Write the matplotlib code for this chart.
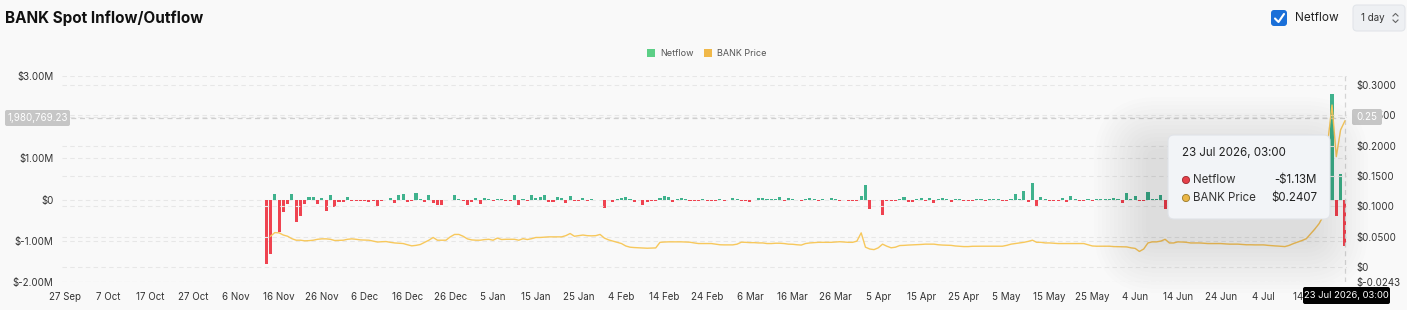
import numpy as np
import pandas as pd
import matplotlib
matplotlib.use("Agg")
import matplotlib.pyplot as plt
from matplotlib.patches import FancyBboxPatch, Circle
from matplotlib.ticker import FixedLocator, FuncFormatter

plt.rcParams["font.family"] = ["Inter", "DejaVu Sans"]

W, H = 1407, 310

# daily netflow in $M, 13 Nov 2025 .. 23 Jul 2026
netflow_m = [
    -1.56, -1.33, 0.13, -0.78, -0.31, -0.11, 0.13, -0.55, -0.39, -0.10,
    0.06, 0.06, -0.10, 0.04, -0.27, 0.12, -0.19, -0.05, -0.05, 0.07,
    -0.04, -0.04, -0.04, -0.04, -0.05, -0.04, -0.15, -0.04, -0.01, 0.04,
    -0.09, 0.12, 0.14, -0.05, -0.04, 0.16, 0.01, -0.05, 0.10, -0.09,
    -0.12, -0.12, -0.01, -0.01, 0.10, 0.01, -0.03, -0.12, -0.05, 0.04,
    -0.10, 0.04, 0.01, -0.04, 0.02, 0.02, -0.04, -0.04, 0.10, -0.12,
    0.01, -0.04, 0.12, 0.04, 0.07, 0.10, -0.05, -0.07, 0.06, 0.03,
    -0.09, 0.09, -0.04, -0.04, 0.04, -0.04, 0.01, -0.01, -0.01, -0.20,
    -0.01, -0.05, 0.01, 0.03, 0.06, 0.01, -0.07, -0.01, -0.12, -0.07,
    -0.04, -0.04, 0.04, 0.08, 0.07, -0.06, 0.01, 0.03, 0.01, -0.04,
    -0.04, -0.04, 0.01, -0.04, -0.04, -0.04, 0.01, -0.04, -0.01, 0.03,
    0.01, -0.04, -0.04, -0.07, -0.01, 0.03, 0.04, 0.01, 0.01, 0.01,
    0.07, -0.03, 0.03, 0.01, -0.01, -0.03, 0.01, 0.03, 0.01, -0.03,
    0.01, -0.01, 0.03, 0.01, -0.03, -0.01, -0.03, -0.04, -0.03, 0.09,
    0.36, -0.24, -0.01, -0.01, -0.38, -0.03, -0.03, -0.03, 0.01, 0.07,
    -0.05, -0.06, 0.01, 0.05, -0.03, 0.03, -0.08, 0.01, 0.04, 0.01,
    -0.06, 0.01, 0.01, -0.03, -0.03, -0.03, 0.01, 0.01, -0.03, 0.01,
    0.01, 0.01, -0.03, -0.03, 0.01, 0.13, 0.01, 0.22, -0.05, 0.41,
    -0.18, 0.06, 0.01, -0.03, -0.03, -0.03, 0.05, -0.05, 0.08, 0.01,
    -0.04, -0.03, 0.01, -0.03, 0.01, 0.01, 0.01, 0.01, 0.03, 0.02,
    -0.08, 0.15, 0.02, 0.08, -0.04, -0.03, 0.19, 0.01, 0.01, 0.10,
    -0.24, 0.03, -0.02, 0.02, -0.03, 0.01, 0.02, -0.02, 0.01, 0.03,
    -0.02, 0.01, -0.03, 0.02, 0.01, -0.02, 0.02, 0.01, -0.03, 0.02,
    0.01, -0.02, 0.01, 0.02, -0.02, 0.01, -0.03, 0.02, 0.03, -0.02,
    0.04, -0.03, 0.05, 0.06, -0.04, 0.08, 0.10, 0.15, 0.20, 2.56,
    -0.39, 0.61, -1.13,
]

# daily BANK price in $, 14 Nov 2025 .. 23 Jul 2026
price = [
    0.051, 0.057, 0.0566, 0.053, 0.051, 0.047, 0.0445, 0.0445, 0.0435, 0.0438,
    0.0445, 0.046, 0.0467, 0.0467, 0.046, 0.044, 0.0442, 0.0445, 0.046, 0.0467,
    0.046, 0.045, 0.0448, 0.0445, 0.043, 0.0415, 0.042, 0.0423, 0.041, 0.040,
    0.0395, 0.039, 0.037, 0.0352, 0.036, 0.0374, 0.041, 0.0445, 0.049, 0.0445,
    0.0445, 0.0445, 0.050, 0.054, 0.054, 0.051, 0.0467, 0.045, 0.0445, 0.0445,
    0.0455, 0.046, 0.0445, 0.048, 0.0456, 0.046, 0.046, 0.046, 0.0445, 0.047,
    0.0456, 0.047, 0.049, 0.049, 0.0495, 0.050, 0.050, 0.050, 0.050, 0.052,
    0.0555, 0.051, 0.052, 0.053, 0.052, 0.0517, 0.052, 0.054, 0.048, 0.045,
    0.043, 0.041, 0.039, 0.035, 0.033, 0.0324, 0.032, 0.0315, 0.0313, 0.0315,
    0.0318, 0.041, 0.0415, 0.0418, 0.0418, 0.0418, 0.0418, 0.0415, 0.0412, 0.040,
    0.039, 0.039, 0.039, 0.039, 0.038, 0.037, 0.0368, 0.0368, 0.0368, 0.038,
    0.0412, 0.041, 0.0405, 0.0405, 0.040, 0.040, 0.039, 0.039, 0.0395, 0.0395,
    0.039, 0.038, 0.0378, 0.037, 0.0365, 0.039, 0.040, 0.0405, 0.041, 0.041,
    0.041, 0.041, 0.0415, 0.042, 0.0415, 0.041, 0.041, 0.043, 0.0566, 0.033,
    0.030, 0.029, 0.032, 0.038, 0.0346, 0.032, 0.033, 0.0357, 0.036, 0.0365,
    0.0368, 0.037, 0.0375, 0.038, 0.038, 0.038, 0.037, 0.0365, 0.0362, 0.036,
    0.035, 0.0345, 0.034, 0.034, 0.0345, 0.0346, 0.0346, 0.0346, 0.0346, 0.0346,
    0.0346, 0.0346, 0.036, 0.038, 0.039, 0.040, 0.041, 0.0425, 0.0445, 0.041,
    0.041, 0.040, 0.040, 0.0395, 0.039, 0.039, 0.039, 0.039, 0.039, 0.039,
    0.039, 0.037, 0.035, 0.0346, 0.0346, 0.0346, 0.0346, 0.034, 0.0338, 0.0335,
    0.0335, 0.032, 0.031, 0.026, 0.030, 0.040, 0.0418, 0.0418, 0.043, 0.046,
    0.040, 0.040, 0.0418, 0.0415, 0.041, 0.040, 0.040, 0.040, 0.0395, 0.039,
    0.039, 0.039, 0.039, 0.0385, 0.038, 0.038, 0.038, 0.0375, 0.037, 0.037,
    0.0368, 0.0368, 0.0368, 0.036, 0.0355, 0.035, 0.0345, 0.034, 0.036, 0.039,
    0.0415, 0.044, 0.047, 0.055, 0.063, 0.072, 0.085, 0.205, 0.267, 0.182,
    0.226, 0.2407,
]

left_ticks = [-2e6, -1e6, 0, 1e6, 2e6, 3e6]
right_ticks = [-0.0243, 0, 0.05, 0.10, 0.15, 0.20, 0.25, 0.30]

bar_dates = pd.date_range("2025-11-13", periods=len(netflow_m), freq="D")
price_dates = pd.date_range("2025-11-14", periods=len(price), freq="D")
tick_dates = pd.date_range("2025-09-27", "2026-07-23", freq="10D")

GREEN = "#3fb28d"
RED = "#ef4350"
GOLD = "#f7c85c"
BG = "#f9f9f9"
GRID = "#e7e7e7"

fig = plt.figure(figsize=(W / 100, H / 100), dpi=100, facecolor=BG)

ax = fig.add_axes([62 / W, 1 - 282 / H, (1347 - 62) / W, (282 - 76) / H])
ax.set_facecolor(BG)
vals = np.array(netflow_m) * 1e6
ax.bar(bar_dates, vals, width=0.72, color=[GREEN if v >= 0 else RED for v in vals],
       zorder=3)
ax.set_ylim(-2e6, 3e6)
ax.set_xlim(pd.Timestamp("2025-09-27") - pd.Timedelta(hours=17),
            pd.Timestamp("2026-07-23") + pd.Timedelta(hours=12))
ax.yaxis.set_major_locator(FixedLocator(left_ticks))


def fmt_left(v, pos):
    if v == 0:
        return "$0"
    if v == 2e6:
        # hidden under the crosshair label in the reference
        return ""
    return f"${v / 1e6:.2f}M"


ax.yaxis.set_major_formatter(FuncFormatter(fmt_left))
ax.set_xticks(tick_dates)
ax.set_xticklabels([f"{d.day} {d.strftime('%b')}" for d in tick_dates])
ax.grid(axis="y", color=GRID, ls=(0, (4, 3)), lw=0.8, zorder=0)
ax.tick_params(length=0, labelsize=7, colors="#333333")
ax.tick_params(axis="y", pad=6)
ax.tick_params(axis="x", pad=7)
for s in ax.spines.values():
    s.set_visible(False)

ax2 = ax.twinx()
ax2.plot(price_dates, price, color=GOLD, lw=1.0, zorder=4)
ax2.set_ylim(-0.0243, 0.3148)
ax2.yaxis.set_major_locator(FixedLocator(right_ticks))


def fmt_right(v, pos):
    if v == 0:
        return "$0"
    return f"${v:.4f}"


ax2.yaxis.set_major_formatter(FuncFormatter(fmt_right))
ax2.grid(axis="y", color=GRID, ls=(0, (4, 3)), lw=0.8, zorder=0)
ax2.tick_params(length=0, labelsize=7, colors="#333333", pad=7)
for s in ax2.spines.values():
    s.set_visible(False)

# crosshair
ax.axhline(1980769.23, color="#cfcfcf", ls=(0, (4, 3)), lw=0.9, zorder=5)
ax.axvline(pd.Timestamp("2026-07-23 03:00"), color="#d4d4d4", ls=(0, (4, 3)), lw=0.9, zorder=5)

# overlay in pixel coordinates for the ui bits
ov = fig.add_axes([0, 0, 1, 1], zorder=10)
ov.set_xlim(0, W)
ov.set_ylim(H, 0)
ov.axis("off")
ov.patch.set_alpha(0)

ov.text(5, 18, "BANK Spot Inflow/Outflow", fontsize=11, fontweight="bold",
        color="#111111", va="center", ha="left")

# checkbox + select
ov.add_patch(FancyBboxPatch((1271, 10), 16, 16, boxstyle="round,pad=0,rounding_size=3",
                            fc="#1a6fd8", ec="none"))
ov.plot([1275, 1278.5, 1284], [18.5, 22, 14], color="white", lw=1.5, solid_capstyle="round")
ov.text(1295, 18, "Netflow", fontsize=8.5, color="#222222", va="center")
ov.add_patch(FancyBboxPatch((1353, 5), 52, 26, boxstyle="round,pad=0,rounding_size=4",
                            fc="#eef0f3", ec="#e2e5ea", lw=0.8))
ov.text(1361, 18, "1 day", fontsize=7, color="#333333", va="center")
ov.plot([1393, 1395.5, 1398], [16, 13.5, 16], color="#666666", lw=0.8)
ov.plot([1393, 1395.5, 1398], [20, 22.5, 20], color="#666666", lw=0.8)

# legend
ov.add_patch(FancyBboxPatch((647, 49), 8, 8, boxstyle="square,pad=0", fc="#5ccf86", ec="none"))
ov.text(660, 53, "Netflow", fontsize=6.5, color="#555555", va="center")
ov.add_patch(FancyBboxPatch((704, 49), 8, 8, boxstyle="square,pad=0", fc="#f0b849", ec="none"))
ov.text(717, 53, "BANK Price", fontsize=6.5, color="#555555", va="center")

# crosshair labels
ov.add_patch(FancyBboxPatch((5, 110), 65, 16, boxstyle="round,pad=0,rounding_size=2",
                            fc="#c6c6c6", ec="none"))
ov.text(37.5, 118, "1,980,769.23", fontsize=7, color="white", ha="center", va="center")
ov.add_patch(FancyBboxPatch((1352, 109), 30, 16, boxstyle="round,pad=0,rounding_size=2",
                            fc="#c6c6c6", ec="none"))
ov.text(1367, 117, "0.25", fontsize=7, color="white", ha="center", va="center")
ov.add_patch(FancyBboxPatch((1303, 287), 87, 17, boxstyle="round,pad=0,rounding_size=2",
                            fc="#000000", ec="none"))
ov.text(1346.5, 295.5, "23 Jul 2026, 03:00", fontsize=6.8, color="white",
        ha="center", va="center")

# tooltip with soft shadow, pushed down and to the left
tx, ty, tw, th = 1168, 135, 162, 84
for s in range(4, 60, 4):
    ov.add_patch(FancyBboxPatch((tx - s - 18, ty - s + 18), tw + 2 * s, th + 2 * s,
                                boxstyle=f"round,pad=0,rounding_size={8 + s}",
                                fc="black", ec="none", alpha=0.009))
ov.add_patch(FancyBboxPatch((tx, ty), tw, th, boxstyle="round,pad=0,rounding_size=6",
                            fc="#f2f4f7", ec="#e0e3e8", lw=0.8))
ov.text(1182, 153, "23 Jul 2026, 03:00", fontsize=8.3, color="#222222", va="center")
ov.add_patch(Circle((1186, 180), 3.6, fc="#e5404a", ec="#9a2a30", lw=0.6))
ov.add_patch(Circle((1186, 198), 3.6, fc="#eab646", ec="#9a7a2a", lw=0.6))
ov.text(1193, 180, "Netflow", fontsize=8.3, color="#333333", va="center")
ov.text(1193, 198, "BANK Price", fontsize=8.3, color="#333333", va="center")
ov.text(1317, 180, "-$1.13M", fontsize=8.3, color="#222222", va="center", ha="right")
ov.text(1317, 198, "$0.2407", fontsize=8.3, color="#222222", va="center", ha="right")

fig.savefig("out.png", dpi=100, facecolor=BG)
